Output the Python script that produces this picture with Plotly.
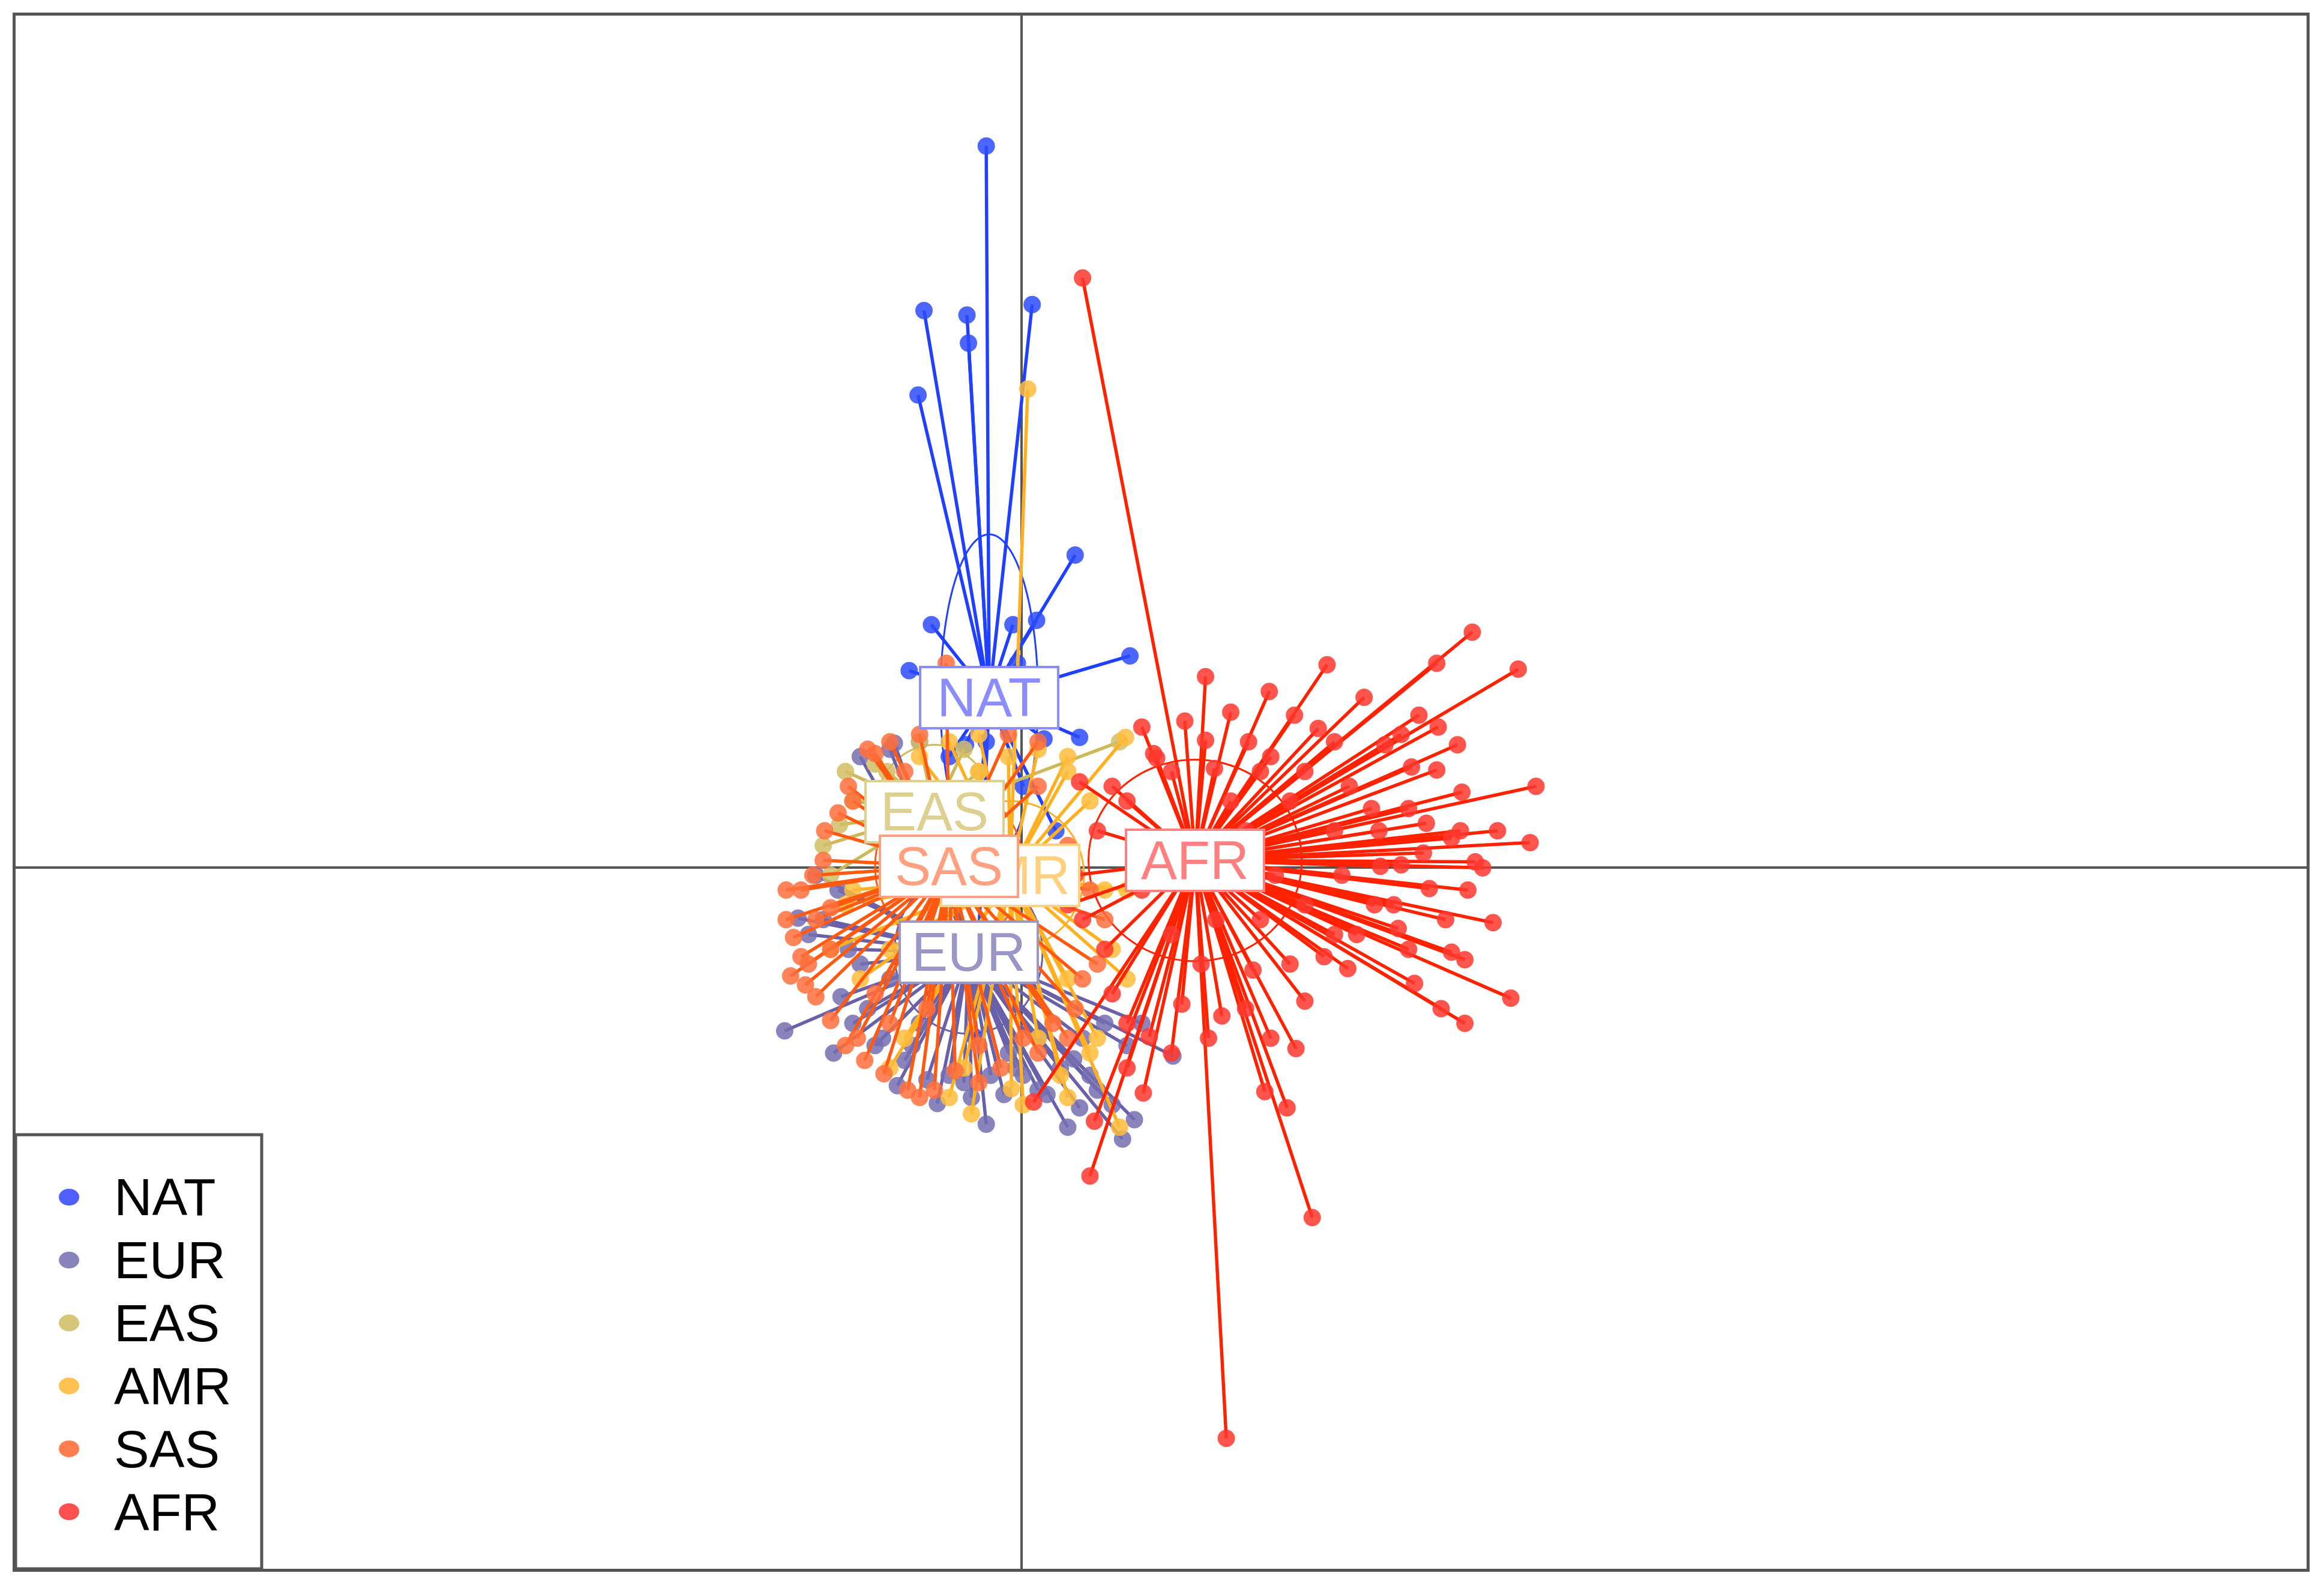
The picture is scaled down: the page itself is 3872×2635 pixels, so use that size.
import plotly.graph_objects as go

W, H = 3872, 2635
ML, MR, MT, MB = 18, 37, 18, 30

# group order as in the legend
groups = ["NAT", "EUR", "EAS", "AMR", "SAS", "AFR"]

# centroids (LD1, LD2)
cent_x = {"NAT": -0.22, "EUR": -0.36, "EAS": -0.59, "AMR": -0.08, "SAS": -0.49, "AFR": 1.17}
cent_y = {"NAT": 1.15, "EUR": -0.57, "EAS": 0.38, "AMR": -0.05, "SAS": 0.01, "AFR": 0.05}

# ellipse half-axes
ell_a = {"NAT": 0.33, "EUR": 0.50, "EAS": 0.40, "AMR": 0.50, "SAS": 0.50, "AFR": 0.72}
ell_b = {"NAT": 1.10, "EUR": 0.55, "EAS": 0.45, "AMR": 0.50, "SAS": 0.55, "AFR": 0.68}

nat_x = [-0.24, -0.66, -0.37, -0.36, 0.07, -0.70, 0.36, -0.61, 0.10, -0.06, -0.76, 0.73,
         -0.38, 0.15, 0.39, -0.24, -0.03, -0.32, -0.17, -0.49, 0.01, 0.23, -0.29]
nat_y = [4.87, 3.76, 3.73, 3.54, 3.80, 3.19, 2.11, 1.64, 1.67, 1.64, 1.33, 1.43,
         0.83, 0.87, 0.88, 0.85, 1.38, -1.14, 1.25, 0.75, 0.55, 0.25, 0.40]

eur_x = [-0.86, -1.51, -1.39, -1.60, -1.27, -1.22, -0.84, -0.57, -0.24, -0.12, 0.17, 0.39,
         0.68, 1.02, 0.35, -1.44, -1.14, -0.99, -0.49, -0.34, 0.01, 0.51, 0.71, 0.81,
         -1.24, -0.79, 0.11, -0.69, -1.09, 0.56, -0.89, -0.09,
         -1.34, -1.17, -1.04, -0.94, -0.74, -0.64, -0.39, -0.21, -0.04, 0.11, 0.26, 0.46,
         0.61, 0.76, 0.31, 0.41, -0.89, -0.69, -1.09]
eur_y = [0.84, -0.34, -0.05, -1.10, -1.25, -0.87, -1.47, -1.59, -1.73, -1.53, -1.53, -1.62,
         -1.83, -1.27, -1.29, -0.45, -1.05, -1.20, -1.40, -1.55, -1.40, -1.50, -1.20, -1.05,
         -0.15, -1.30, -1.15, -1.05, -0.65, -1.05, -0.75, -1.25,
         -0.35, -0.55, -0.95, -1.15, -1.20, -1.43, -1.45, -1.40, -1.35, -1.50, -1.35, -1.40,
         -1.60, -1.70, -1.75, -1.15, 0.80, 0.85, 0.75]

eas_x = [-0.99, -1.23, -1.34, -1.19, -0.91, -1.29, -0.69, -0.39, 0.66, -0.89, -1.14, -0.29,
         -0.79, -0.49]
eas_y = [0.70, 0.29, 0.15, 0.65, 0.65, -0.05, 0.85, 0.80, 0.85, 0.25, 0.45, 0.65,
         -0.15, 0.25]

amr_x = [0.04, 0.70, -0.34, -0.07, -0.49, 0.31, -0.89, -1.19, 0.61, 0.51, 0.11, -0.79,
         0.31, -0.29, 0.71, 0.31, 0.66, -0.39,
         -1.29, -1.09, -0.89, -0.49, 0.01, 0.26, 0.46, 0.71, 0.56, 0.46, 0.31, 0.11,
         -0.09, -0.29, -0.69, -0.99, -1.14]
amr_y = [3.23, 0.88, -1.66, -1.49, 0.85, 0.65, -0.55, -0.25, -0.55, -1.15, -1.15, -1.15,
         -0.75, 0.65, -0.15, -1.55, -1.75, -1.35,
         -0.55, -0.75, -1.35, -1.55, -1.60, -1.40, -1.25, -0.75, -0.15, 0.45, 0.75, 0.80,
         0.75, 0.90, 0.75, 0.25, -0.15]

sas_x = [-0.51, -1.56, -1.46, -0.93, -0.45, -1.29, -1.11, -0.89, -1.29, -1.14, -0.79, -1.04,
         -1.34, -0.69, 0.11, -0.09, -1.39, -1.49, -0.29, 0.41, 0.31, -0.99, -0.64, 0.11, -1.59,
         -1.59, -1.54, -1.44, -1.39, -1.29, -1.19, -1.06, -1.49, -1.41, -1.33, -1.24, -1.17,
         -0.99, -0.89, -0.69, -0.77, -0.59, -0.29, -0.14, 0.01, 0.11, 0.21, 0.36, 0.51,
         0.56, 0.46, 0.31]
sas_y = [1.38, -0.73, -0.79, -1.39, -1.37, -0.55, -1.15, -1.05, -0.27, 0.45, 0.65, 0.80,
         0.05, -1.55, 0.85, 0.90, -0.35, -0.60, -1.20, -0.75, -1.15, -0.85, -0.95, 0.55, -0.15,
         -0.35, -0.47, -0.65, -0.87, -1.03, -1.20, -1.30, -0.15, -0.05, 0.25, 0.37, 0.55,
         0.77, 0.85, 0.90, -1.50, -1.50, -1.45, -1.35, -1.15, -1.25, -1.05, -0.95, -0.65,
         -0.35, -0.15, 0.15]

afr_x = [0.41, 3.04, 3.35, 2.06, 1.24, 1.67, 2.80, 1.10, 1.84, 2.00, 1.24, 2.68, 2.81, 2.94,
         2.45, 1.53, 0.91, 1.68, 2.63, 2.80, 3.47, 2.97, 2.73, 2.90, 3.43, 3.06, 2.75, 2.42,
         2.38, 3.18, 1.30, 2.54, 2.90, 2.99, 2.04, 2.20, 2.65, 3.30, 2.83, 2.99, 1.91, 1.56,
         1.35, 1.08, 1.68, 1.85, 1.64, 1.79, 1.96, 1.38, 0.82, 0.49, 0.46, 0.86, 0.08, 0.89,
         0.39, 0.71, 0.56, 0.31, 0.51, 1.81, 2.11, 1.91, 1.61, 1.41, 1.71, 2.21, 2.16, 1.51,
         1.31, 1.01, 1.21, 0.81, 0.71, 1.01, 2.61, 2.56, 2.26, 2.41,
         2.11, 1.91, 2.36, 2.71, 2.51, 2.11, 1.81, 1.51, 1.26, 1.01, 0.71, 0.61, 0.41, 0.36,
         0.61, 0.81, 1.41, 1.61, 3.01, 3.11, 2.86, 2.61, 3.21, 2.31, 2.56, 2.96]
afr_y = [3.98, 1.59, 1.34, 1.37, 1.29, 1.19, 1.38, 0.99, 1.03, 0.94, 0.86, 1.03, 0.95, 0.83,
         0.83, 0.85, 0.74, 0.75, 0.68, 0.66, 0.55, 0.51, 0.30, 0.20, 0.17, 0.04, -0.14, 0.01,
         -0.25, -0.37, 0.67, -0.41, -0.57, -0.62, -0.60, -0.68, -0.78, -0.88, -0.95, -1.05, -0.90, -0.69,
         -1.00, -0.92, -1.15, -1.22, -1.51, -1.62, -2.36, -3.85, -1.52, -1.71, -2.08, -1.14, -1.58, 0.77,
         0.58, -1.05, -0.55, -0.25, 0.25, 0.45, 0.25, -0.25, -0.35, 0.45, -0.05, 0.55, -0.05, 0.25,
         -0.35, -0.45, -0.65, -0.15, 0.45, 0.65, 0.40, 0.02, -0.45, 0.25,
         0.85, 0.65, 0.40, 0.10, -0.25, -0.45, -0.65, -0.95, -1.15, -1.25, -1.35, -0.85, -0.35, -0.05,
         0.55, 0.95, 1.05, 0.65, -0.15, 0.00, -0.35, -0.55, 0.25, 1.15, 0.90, 0.25]

pts = {"NAT": (nat_x, nat_y), "EUR": (eur_x, eur_y), "EAS": (eas_x, eas_y),
       "AMR": (amr_x, amr_y), "SAS": (sas_x, sas_y), "AFR": (afr_x, afr_y)}

line_col = {"NAT": "#2040ff", "EUR": "#6860a8", "EAS": "#cdb95a",
            "AMR": "#ffb020", "SAS": "#ff5a10", "AFR": "#ff2200"}
mark_col = {"NAT": "rgba(45,75,255,0.85)", "EUR": "rgba(118,110,178,0.85)",
            "EAS": "rgba(210,190,100,0.85)", "AMR": "rgba(255,188,60,0.85)",
            "SAS": "rgba(255,110,60,0.85)", "AFR": "rgba(255,55,45,0.85)"}
lab_col = {"NAT": "#8a8cff", "EUR": "#9a96c6", "EAS": "#ddd090",
           "AMR": "#ffd080", "SAS": "#ffa080", "AFR": "#ff8080"}
key_col = {"NAT": "#5060ff", "EUR": "#8a84bc", "EAS": "#d6c677",
           "AMR": "#ffc250", "SAS": "#ff7d50", "AFR": "#ff5050"}

fig = go.Figure()

for g in groups:
    xs, ys = pts[g]
    lx, ly = [], []
    for x, y in zip(xs, ys):
        lx += [cent_x[g], x, None]
        ly += [cent_y[g], y, None]
    fig.add_trace(go.Scatter(x=lx, y=ly, mode="lines", showlegend=False, hoverinfo="skip",
                             line=dict(color=line_col[g], width=5.5)))
    fig.add_trace(go.Scatter(x=xs, y=ys, mode="markers", name=g, showlegend=False,
                             marker=dict(color=mark_col[g], size=29)))
    fig.add_shape(type="circle", layer="between",
                  x0=cent_x[g] - ell_a[g], x1=cent_x[g] + ell_a[g],
                  y0=cent_y[g] - ell_b[g], y1=cent_y[g] + ell_b[g],
                  line=dict(color=line_col[g], width=3))

for g in groups:
    fig.add_annotation(x=cent_x[g], y=cent_y[g], text=g, showarrow=False,
                       font=dict(size=90, color=lab_col[g], family="Liberation Sans, Arial"),
                       bgcolor="white", bordercolor=lab_col[g], borderwidth=4,
                       borderpad=2, width=222, height=94)

# legend box drawn by hand (pixel positions converted to paper coords)
pw, ph = W - ML - MR, H - MT - MB
def px(a):
    return (a - ML) / pw
def py(b):
    return 1 - (b - MT) / ph

fig.add_shape(type="rect", xref="paper", yref="paper", x0=0, x1=px(428),
              y0=0, y1=py(1882), line=dict(color="#555555", width=5),
              fillcolor="white", layer="above")
for i, g in enumerate(groups):
    yc = py(1986 + 104.8 * i)
    fig.add_shape(type="circle", xref="paper", yref="paper", xsizemode="pixel",
                  ysizemode="pixel", xanchor=px(107), yanchor=yc,
                  x0=-17, x1=17, y0=-14, y1=14, fillcolor=key_col[g],
                  line=dict(width=0), layer="above")
    fig.add_annotation(xref="paper", yref="paper", x=px(180), y=yc, text=g,
                       xanchor="left", yanchor="middle", showarrow=False,
                       font=dict(size=88, color="black", family="Liberation Sans, Arial"))

fig.update_xaxes(range=[-6.79, 8.67], showgrid=False, showticklabels=False, ticks="",
                 zeroline=True, zerolinecolor="#555555", zerolinewidth=4,
                 showline=True, mirror=True, linecolor="#555555", linewidth=5)
fig.update_yaxes(range=[-4.73, 5.75], showgrid=False, showticklabels=False, ticks="",
                 zeroline=True, zerolinecolor="#555555", zerolinewidth=4,
                 showline=True, mirror=True, linecolor="#555555", linewidth=5)

fig.update_layout(
    width=W, height=H,
    margin=dict(l=ML, r=MR, t=MT, b=MB),
    plot_bgcolor="white", paper_bgcolor="white",
    font=dict(family="Liberation Sans, Arial"),
    showlegend=False,
)

fig.write_html("out.html")
